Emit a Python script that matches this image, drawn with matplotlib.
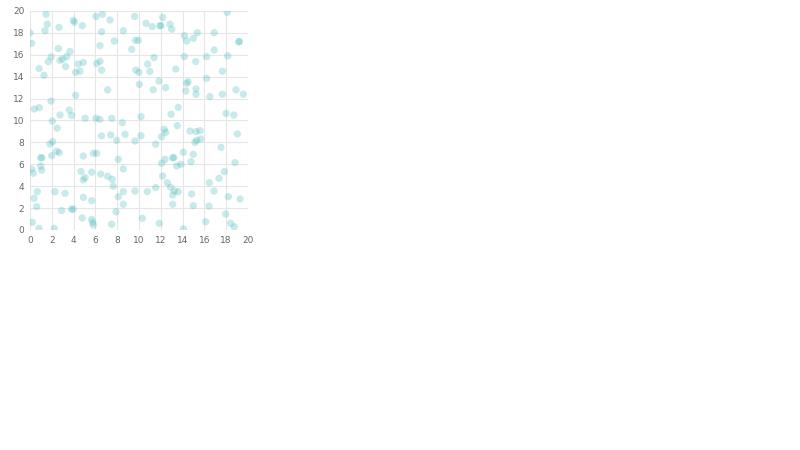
import numpy as np
import matplotlib.pyplot as plt

# point coordinates
xs = [1.47, 1.59, 0.0, 1.38, 2.66, 3.98, 4.07, 4.8, 6.05, 6.64, 7.34, 6.57, 8.56, 9.6,
      0.15, 7.73, 9.66, 9.94, 6.42, 2.6, 3.67, 3.36, 3.0, 2.75, 1.93, 1.68, 3.27, 4.43,
      4.89, 4.19, 4.59, 6.12, 6.42, 6.57, 0.83, 1.28, 9.7, 10.0, 10.03, 7.13, 4.19, 1.93,
      0.39, 0.85, 2.75, 3.6, 3.82, 5.05, 6.05, 6.4, 7.5, 2.05, 9.33,
      8.47, 2.5, 6.57, 7.4, 8.72, 7.95, 9.63, 2.08, 1.83, 2.45, 2.69, 1.99, 4.89, 0.98, 1.1,
      5.81, 6.12, 8.1, 0.15, 0.3, 0.98, 1.07, 4.68, 5.66, 6.48, 7.13, 7.55, 7.64, 8.56,
      5.05, 4.89, 0.67, 2.29, 3.21, 0.37, 4.89, 5.66, 8.1, 8.56, 9.63, 0.61, 2.9, 3.82,
      3.95, 8.56, 7.89, 4.8, 5.66, 5.75, 5.81, 7.49, 0.21, 0.83, 2.23,
      10.64, 11.22, 11.93, 12.0, 12.17, 12.84, 13.0, 18.1, 14.16, 14.37, 14.98, 15.35,
      16.9, 16.9, 19.17, 19.2, 14.16, 15.2, 16.2, 18.14, 17.65, 11.38, 10.8, 11.0, 13.37,
      11.83, 12.45, 11.3, 14.3, 14.37, 14.5, 15.23, 15.23, 16.2, 16.5, 17.65, 18.9, 19.57,
      10.18, 12.94, 13.6, 17.98, 18.7,
      12.32, 12.45, 12.08, 13.51, 10.18, 14.68, 15.23, 15.6, 15.14, 15.29, 15.66, 19.02,
      11.53, 17.52, 14.07, 14.98, 14.77, 13.09, 13.2, 12.39, 12.08, 13.46, 13.85, 18.81,
      17.83, 17.34, 12.17, 12.6, 12.9, 13.24, 13.09, 13.6, 11.53, 10.76, 16.45, 16.88,
      14.83, 18.2, 19.27, 13.09, 14.98, 16.42, 17.95, 10.3, 11.86, 16.12, 18.41, 18.74,
      14.07]
ys = [19.7, 18.8, 18.0, 18.2, 18.5, 19.15, 18.97, 18.66, 19.5, 19.7, 19.18, 18.1, 18.2, 19.5,
      17.05, 17.26, 17.32, 17.32, 16.83, 16.57, 16.3, 15.83, 15.6, 15.5, 15.8, 15.37, 14.93, 15.16,
      15.3, 14.4, 14.5, 15.2, 15.4, 14.6, 14.75, 14.13, 14.6, 14.4, 13.3, 12.8, 12.3, 11.78,
      11.05, 11.17, 10.5, 10.95, 10.46, 10.2, 10.2, 10.1, 10.2, 9.95, 16.5,
      9.8, 9.3, 8.6, 8.68, 8.74, 8.19, 8.13, 8.07, 7.85, 7.2, 7.06, 6.79, 6.76, 6.6, 6.6,
      7.0, 7.0, 6.45, 5.57, 5.18, 5.84, 5.45, 5.35, 5.28, 5.1, 4.9, 4.63, 4.0, 5.57,
      4.78, 4.57, 3.5, 3.5, 3.35, 2.89, 2.98, 2.68, 3.04, 3.5, 3.56, 2.13, 1.77, 1.9,
      1.9, 2.35, 1.67, 1.1, 0.97, 0.7, 0.46, 0.52, 0.7, 0.15, 0.15,
      18.87, 18.57, 18.66, 18.66, 19.42, 18.8, 18.33, 19.88, 17.75, 17.26, 17.5, 18.02,
      18.02, 16.44, 17.2, 17.2, 15.83, 15.38, 15.83, 15.9, 14.5, 15.75, 15.15, 14.47, 14.7,
      13.6, 13.0, 12.8, 12.7, 13.4, 13.55, 12.88, 12.4, 13.85, 12.18, 12.4, 12.8, 12.4,
      10.35, 10.57, 11.2, 10.65, 10.5,
      9.2, 8.92, 8.52, 9.53, 8.61, 9.04, 8.98, 9.07, 8.0, 8.2, 8.31, 8.77,
      7.83, 7.55, 7.1, 6.91, 6.24, 6.6, 6.6, 6.45, 6.09, 5.84, 6.0, 6.15,
      5.33, 4.72, 4.93, 4.32, 3.9, 3.56, 3.2, 3.5, 3.87, 3.5, 4.32, 3.56,
      3.29, 3.04, 2.83, 2.35, 2.22, 2.19, 1.46, 1.07, 0.61, 0.76, 0.61, 0.3,
      0.09]

fig = plt.figure(figsize=(8, 4.5), dpi=100)
ax = fig.add_axes([30 / 800, 1 - 230 / 450, 218 / 800, 219 / 450])

ax.scatter(xs, ys, s=28, color='#3db5b5', alpha=0.28, edgecolors='none', zorder=3)

ax.set_xlim(0, 20)
ax.set_ylim(0, 20)
ax.set_xticks(np.arange(0, 21, 2))
ax.set_yticks(np.arange(0, 21, 2))
ax.grid(True, color='#e6e6e6', linewidth=0.8)
ax.set_axisbelow(True)
for side in ['top', 'right', 'bottom', 'left']:
    ax.spines[side].set_visible(False)
ax.tick_params(length=0, labelsize=6.5, colors='#666666', pad=4)

fig.savefig('out.png', dpi=100)
